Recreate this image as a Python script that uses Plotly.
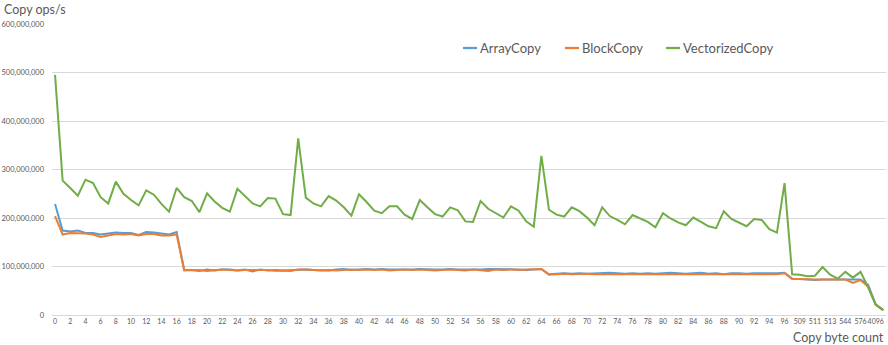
import plotly.graph_objects as go
import numpy as np

categories = [str(i) for i in range(97)] + ["508", "509", "510", "511", "512", "513", "528",
                                            "544", "560", "576", "1024", "4096", "8192"]

# values in millions of ops/s
array_copy = [229, 174, 172, 174, 169, 169, 166, 168, 170, 169, 169, 165, 171, 170, 168, 166, 171,
              93, 93, 91, 94, 92, 94, 94, 92,
              94, 90, 94, 92, 93, 92, 93, 94,
              94, 93, 93, 92, 94, 95, 93, 94,
              95, 94, 95, 94, 94, 93, 94, 95,
              94, 94, 94, 95, 94, 94, 93, 94,
              95, 95, 94, 95, 94, 93, 94, 95,
              84, 85, 86, 85, 86, 85, 86, 86,
              87, 86, 85, 86, 85, 86, 85, 86,
              87, 86, 85, 86, 87, 85, 86, 84,
              86, 86, 85, 86, 86, 85, 86, 87,
              75, 74, 73, 72, 73, 73, 73, 73, 73, 73, 62, 22, 10]

block_copy = [204, 166, 169, 169, 168, 166, 161, 164, 167, 166, 167, 164, 167, 167, 164, 164, 166,
              92, 92, 93, 91, 93, 94, 93, 92,
              93, 93, 92, 93, 91, 92, 91, 94,
              94, 93, 92, 93, 92, 93, 94, 93,
              94, 93, 94, 92, 93, 94, 93, 94,
              93, 92, 93, 94, 93, 92, 94, 93,
              91, 94, 93, 94, 93, 94, 95, 95,
              83, 84, 85, 84, 85, 85, 84, 84,
              85, 84, 85, 85, 84, 85, 84, 85,
              85, 84, 84, 85, 85, 84, 85, 85,
              85, 84, 84, 85, 84, 85, 84, 86,
              74, 74, 73, 73, 73, 73, 73, 73, 66, 72, 58, 21, 10]

vectorized_copy = [495,
                   277, 262, 246, 279, 272, 243, 230, 275, 250, 237, 226, 257, 248, 229, 213, 262,
                   243, 235, 212, 251, 234, 221, 213, 260, 244, 230, 224, 241, 240, 208, 206, 364,
                   242, 230, 224, 245, 236, 222, 205, 249, 233, 215, 210, 224, 224, 207, 198, 237,
                   222, 208, 203, 222, 216, 193, 192, 235, 219, 210, 201, 224, 215, 193, 182, 328,
                   217, 207, 203, 222, 214, 201, 185, 222, 204, 196, 187, 206, 199, 192, 181, 210,
                   199, 191, 185, 201, 192, 183, 179, 214, 198, 190, 183, 198, 196, 177, 170, 272,
                   84, 83, 80, 81, 99, 83, 75, 89, 77, 89, 57, 21, 10]

series_names = ["ArrayCopy", "BlockCopy", "VectorizedCopy"]
series_values = [array_copy, block_copy, vectorized_copy]
colors = ["#5B9BD5", "#ED7D31", "#70AD47"]

y_ticks = [0, 100e6, 200e6, 300e6, 400e6, 500e6, 600e6]

FONT = "Lato"
GREY = "#595959"

fig = go.Figure()
for name, vals, col in zip(series_names, series_values, colors):
    fig.add_trace(go.Scatter(
        x=categories, y=np.array(vals, dtype=float) * 1e6, name=name, mode="lines",
        line=dict(color=col, width=2), showlegend=False))

W, H = 888, 345
L, R, T, B = 52, 2, 24, 30

fig.update_layout(
    width=W, height=H,
    margin=dict(l=L, r=R, t=T, b=B, autoexpand=False),
    paper_bgcolor="white", plot_bgcolor="white",
    font=dict(family=FONT, color=GREY),
)
fig.update_xaxes(
    type="category", categoryorder="array", categoryarray=categories,
    range=[-0.4, len(categories) - 1 + 0.35],
    tickmode="array", tickvals=categories[::2], ticktext=categories[::2],
    tickfont=dict(size=7, color=GREY), tickangle=0, automargin=False,
    showgrid=False, showline=True, linecolor="#D9D9D9", linewidth=1,
    ticks="", zeroline=False,
)
fig.update_yaxes(
    range=[0, 600e6], tickvals=y_ticks, tickformat=",d", automargin=False,
    tickfont=dict(size=7.5, color=GREY),
    showgrid=True, gridcolor="#D9D9D9", gridwidth=1,
    zeroline=False, showline=False, ticks="", ticklabelstandoff=7,
)

# manual legend (Excel-style short line samples)
leg_x = [463, 565, 666]
leg_y = 48
for name, col, lx in zip(series_names, colors, leg_x):
    fig.add_shape(type="line", xref="paper", yref="paper",
                  x0=(lx - L) / (W - L - R), x1=(lx + 14 - L) / (W - L - R),
                  y0=1 - (leg_y - T) / (H - T - B), y1=1 - (leg_y - T) / (H - T - B),
                  line=dict(color=col, width=2.25))
    fig.add_annotation(text=name, xref="paper", yref="paper",
                       x=(lx + 15 - L) / (W - L - R), y=1 - (leg_y - T) / (H - T - B),
                       xanchor="left", yanchor="middle", showarrow=False,
                       font=dict(size=13, color=GREY, family=FONT))

# axis titles
fig.add_annotation(text="Copy ops/s", xref="paper", yref="paper",
                   x=(2 - L) / (W - L - R), y=1 + (T - 10) / (H - T - B),
                   xanchor="left", yanchor="middle", showarrow=False,
                   font=dict(size=12.5, color=GREY, family=FONT))
fig.add_annotation(text="Copy byte count", xref="paper", yref="paper",
                   x=1.0, y=-(337 - (H - B)) / (H - T - B),
                   xanchor="right", yanchor="middle", showarrow=False,
                   font=dict(size=12.5, color=GREY, family=FONT))

fig.write_html("out.html")
